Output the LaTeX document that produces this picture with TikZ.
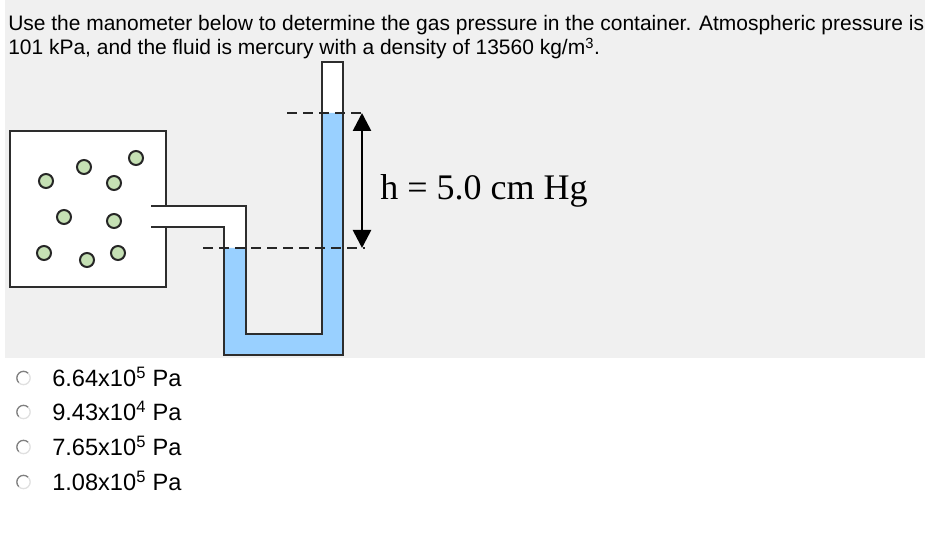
\documentclass[tikz,border=0pt]{standalone}
\usepackage{fontspec}
\setmainfont{Liberation Sans}
\newfontfamily\serifhg{Liberation Serif}
\usetikzlibrary{arrows.meta, positioning}
\definecolor{panelgray}{RGB}{240,240,240}
\definecolor{fluidblue}{RGB}{153,208,255}
\definecolor{gasgreen}{RGB}{197,224,180}
\definecolor{walldark}{RGB}{45,45,45}
\tikzset{
  wall/.style={draw=walldark, line width=1.5pt, line join=miter},
  gas/.style={circle, draw=black!85, fill=gasgreen, line width=1.5pt, minimum size=10.5pt, inner sep=0pt},
  level/.style={draw=black!85, dashed, dash pattern=on 7.5pt off 4.5pt, line width=1.5pt},
  question/.style={anchor=base west, inner sep=0pt, font=\fontsize{15.73}{18}\selectfont},
  answer/.style={anchor=base west, inner sep=0pt, font=\fontsize{17.7}{20}\selectfont},
  radio/.style={circle, minimum size=10pt, inner sep=0pt, outer sep=0pt}
}

\begin{document}
\begin{tikzpicture}[x=0.75pt, y=-0.75pt]
    \useasboundingbox (0,0) rectangle (925,559);
    % Panel behind the question and the sketch
    \fill[panelgray] (5,0) rectangle (925,358);

    % Question text
    \node[question] (line1) at (8,31) {Use the manometer below to determine the gas pressure in the container. Atmospheric pressure is};
    \node[question] (line2) at (8,55) {101 kPa, and the fluid is mercury with a density of 13560 kg/m\textsuperscript{3}.};

    % Container
    \fill[white] (10,131) rectangle (166,287);
    \draw[wall] (166,206) -- (166,131) -- (10,131) -- (10,287) -- (166,287) -- (166,227);

    % Gas particles
    \node[gas] (g1) at (136,158) {};
    \node[gas] (g2) at (84,167) {};
    \node[gas] (g3) at (46,181) {};
    \node[gas] (g4) at (114,183) {};
    \node[gas] (g5) at (64,217) {};
    \node[gas] (g6) at (114,221) {};
    \node[gas] (g7) at (44,253) {};
    \node[gas] (g8) at (87,260) {};
    \node[gas] (g9) at (118,253) {};

    % Manometer tube and fluid
    \fill[white] (151,206) -- (246,206) -- (246,248) -- (224,248) -- (224,227) -- (151,227) -- cycle;
    \fill[white] (322,62) rectangle (343,113);
    \fill[fluidblue] (224,248) -- (246,248) -- (246,334) -- (322,334) -- (322,113) -- (343,113) -- (343,355) -- (224,355) -- cycle;
    \draw[wall] (151,206) -- (246,206) -- (246,334) -- (322,334) -- (322,62) -- (343,62) -- (343,355) -- (224,355) -- (224,227) -- (151,227);

    % Levels and height arrow
    \coordinate (topleft) at (287,113);
    \coordinate (topright) at (362,113);
    \coordinate (lowleft) at (203,248);
    \coordinate (lowright) at (365,248);
    \draw[level] (topleft) -- (topright);
    \draw[level] (lowleft) -- (lowright);
    \draw[{Triangle[width=13.5pt,length=13.5pt]}-{Triangle[width=13.5pt,length=13.5pt]}, line width=2pt, black] (topright) -- (topright |- lowleft);
    \node[anchor=base west, inner sep=0pt, font=\serifhg\fontsize{27}{30}\selectfont] (hlabel) at (380,200) {h = 5.0 cm Hg};

    % Answer choices
    \node[radio] (r1) at (23.5,378) {};
    \draw[gray, line width=1pt] (r1.south west) arc[start angle=225, end angle=45, radius=5pt];
    \draw[black!12, line width=1pt] (r1.north east) arc[start angle=45, end angle=-135, radius=5pt];
    \node[answer] (a1) at (52,387) {6.64x10\textsuperscript{5} Pa};
    \node[radio] (r2) at (23.5,412) {};
    \draw[gray, line width=1pt] (r2.south west) arc[start angle=225, end angle=45, radius=5pt];
    \draw[black!12, line width=1pt] (r2.north east) arc[start angle=45, end angle=-135, radius=5pt];
    \node[answer] (a2) at (52,421) {9.43x10\textsuperscript{4} Pa};
    \node[radio] (r3) at (23.5,447) {};
    \draw[gray, line width=1pt] (r3.south west) arc[start angle=225, end angle=45, radius=5pt];
    \draw[black!12, line width=1pt] (r3.north east) arc[start angle=45, end angle=-135, radius=5pt];
    \node[answer] (a3) at (52,456) {7.65x10\textsuperscript{5} Pa};
    \node[radio] (r4) at (23.5,482) {};
    \draw[gray, line width=1pt] (r4.south west) arc[start angle=225, end angle=45, radius=5pt];
    \draw[black!12, line width=1pt] (r4.north east) arc[start angle=45, end angle=-135, radius=5pt];
    \node[answer] (a4) at (52,491) {1.08x10\textsuperscript{5} Pa};
\end{tikzpicture}
\end{document}
